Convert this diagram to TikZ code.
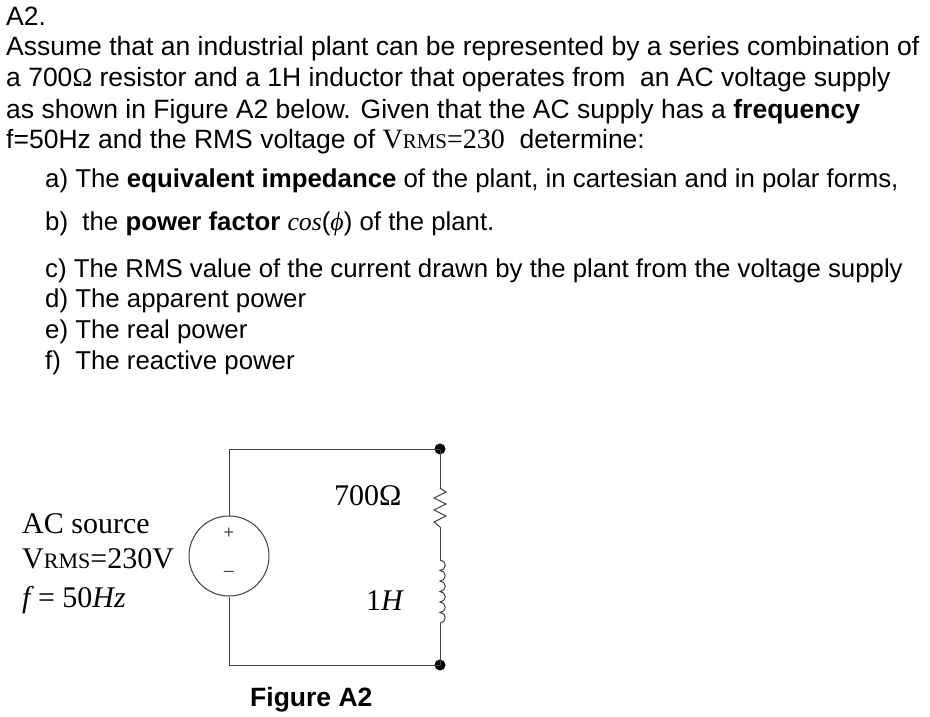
\documentclass[tikz,border=0pt]{standalone}
\usepackage{fontspec}
\setmainfont{Liberation Sans}
\newfontfamily\serif{Liberation Serif}
\begin{document}
\begin{tikzpicture}[x=1pt,y=-1pt,
  txt/.style={anchor=base west,inner sep=0pt,font=\fontsize{26.5}{30}\selectfont},
  itxt/.style={anchor=base west,inner sep=0pt,font=\fontsize{25.8}{30}\selectfont},
  stxt/.style={anchor=base west,inner sep=0pt,font=\serif\fontsize{30}{34}\selectfont},
  wire/.style={line width=1pt,black!75},
  dot/.style={circle,fill=black,inner sep=0pt,minimum size=11pt}]
\useasboundingbox (0,0) rectangle (930,717);
\node[txt] (t0) at (6,26) {A2.};
\node[txt] (t1) at (6,56) {Assume that an industrial plant can be represented by a series combination of};
\node[txt] (t2) at (6,87) {a 700{\serif Ω} resistor and a 1H inductor that operates from\ \ an\ AC voltage supply};
\node[txt] (t3) at (6,118) {as shown in Figure A2\ below. Given that the AC supply has a \textbf{frequency}};
\node[txt] (t4) at (6,149) {f=50Hz and the RMS voltage of {\serif\fontsize{28}{30}\selectfont V\fontsize{21}{24}\selectfont RMS\fontsize{28}{30}\selectfont=230}\ \ determine:};
\node[itxt] (ta) at (45,187) {a)\ The \textbf{equivalent impedance} of the plant, in cartesian and in polar forms,};
\node[itxt] (tb) at (45,230) {b)\ \ the \textbf{power factor} {\serif\itshape cos}({\serif\itshape ϕ}) of the plant.};
\node[itxt] (tc) at (45,277) {c)\ The RMS value of the current drawn by the plant from the voltage supply};
\node[itxt] (td) at (45,307) {d)\ The apparent power};
\node[itxt] (te) at (45,338) {e)\ The real power};
\node[itxt] (tf) at (45,369) {f)\ \ The reactive power};
\node[txt,font=\bfseries\fontsize{26.5}{30}\selectfont] (fig) at (250,706) {Figure A2};
\node[stxt] (s1) at (22,533) {AC source};
\node[stxt] (s2) at (22,568) {V{\fontsize{22}{24}\selectfont RMS}=230V};
\node[stxt] (s3) at (22,607) {\itshape f\upshape\ = 50\itshape Hz};
\node[stxt] (r) at (334,505) {700Ω};
\node[stxt] (l) at (366,610) {1\itshape H};
% circuit
\node[draw,wire,circle,minimum size=80pt,inner sep=0pt] (src) at (229,556) {};
\node[font=\fontsize{18}{18}\selectfont,black!70] (plus) at (229,533) {+};
\node[font=\fontsize{18}{18}\selectfont,black!70] (minus) at (229,574) {--};
\node[dot] (top) at (440,449) {};
\node[dot] (bot) at (440,665) {};
\coordinate (tl) at (229,449);
\coordinate (bl) at (229,665);
\coordinate (r1) at (440,488);
\coordinate (r2) at (440,527);
\coordinate (l1) at (440,560);
\coordinate (l2) at (440,623);
\draw[wire] (src.north) -- (tl) -- (top.center) -- (r1);
\draw[wire] (r1) -- (446,492) -- (434,498) -- (446,504) -- (434,510) -- (446,516) -- (434,522) -- (440,527);
\draw[wire] (r2) -- (l1);
\draw[wire] (l1) arc[start angle=-90,end angle=90,radius=5.25]
 arc[start angle=-90,end angle=90,radius=5.25]
 arc[start angle=-90,end angle=90,radius=5.25]
 arc[start angle=-90,end angle=90,radius=5.25]
 arc[start angle=-90,end angle=90,radius=5.25]
 arc[start angle=-90,end angle=90,radius=5.25];
\draw[wire] (l2) -- (bot.center) -- (bl) -- (src.south);
\end{tikzpicture}
\end{document}
